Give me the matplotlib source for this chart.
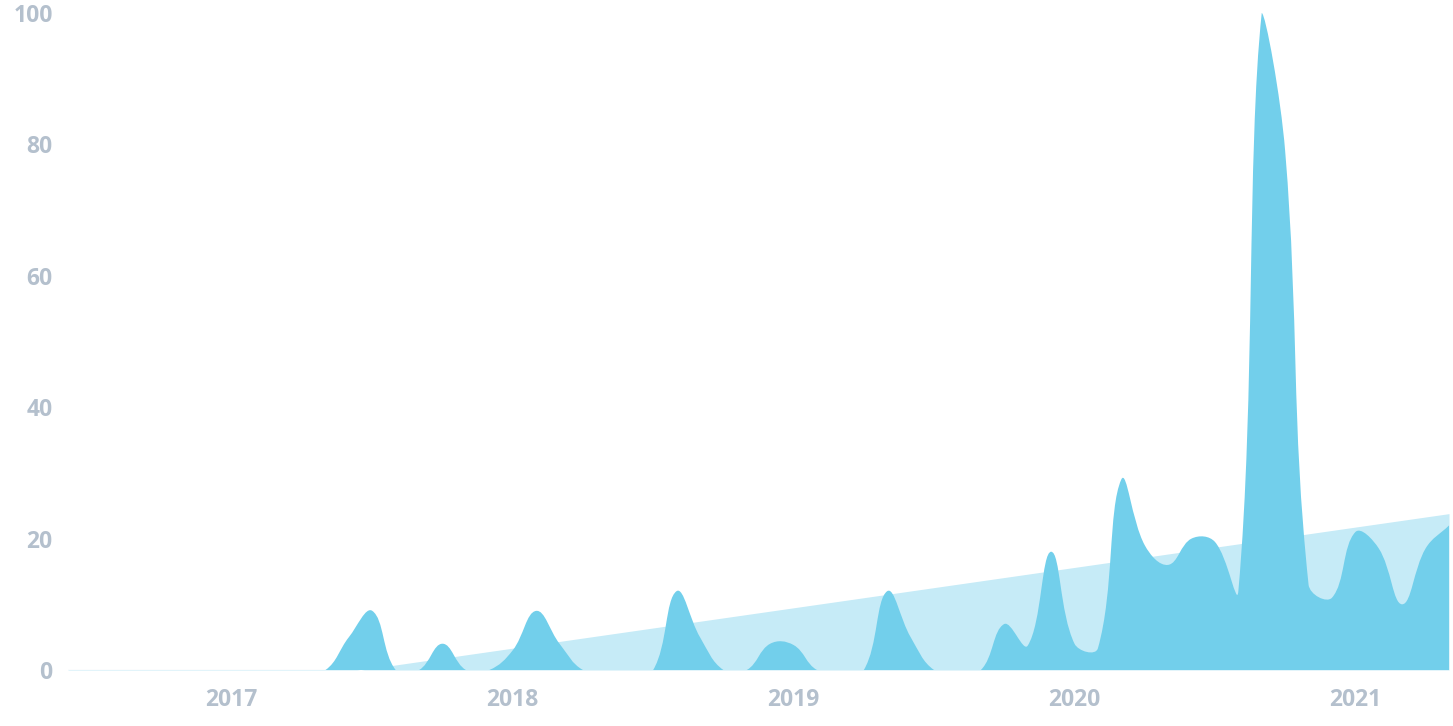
import numpy as np
import pandas as pd
import matplotlib.pyplot as plt
from matplotlib.path import Path
from matplotlib.patches import PathPatch

plt.rcParams['font.family'] = ['Open Sans', 'DejaVu Sans']

# monthly values, Jun 2016 .. May 2021
months = pd.period_range('2016-06', '2021-05', freq='M')
values = [0, 0, 0, 0, 0, 0, 0,
          0, 0, 0, 0, 0, 5, 9, 0, 0, 4, 0, 0,
          3, 9, 4, 0, 0, 0, 0, 12, 5, 0, 0, 4,
          3.8, 0, 0, 0, 12, 5, 0, 0, 0, 7, 3.7, 18,
          4, 3.3, 29, 19, 16, 20, 19.5, 12, 100, 79, 13, 11,
          21, 18.5, 10, 18.5, 22]

# linear trend, value at first and last month
trend_months = [months[0], months[-1]]
trend_values = [-6.4, 23.8]

year_ticks = [2017, 2018, 2019, 2020, 2021]
y_ticks = [0, 20, 40, 60, 80, 100]

main_color = '#72cfeb'
light_color = '#c6ebf7'
label_color = '#b4c0cd'


def month_num(p):
    return (p.year - 2017) * 12 + (p.month - 1)


x = np.array([month_num(p) for p in months], dtype=float)
y = np.array(values, dtype=float)

fig = plt.figure(figsize=(14.53, 7.26), dpi=100)
ax = fig.add_axes([68 / 1453, 56 / 726, 1381 / 1453, 657 / 726])
ax.set_xlim(x[0], x[-1])
ax.set_ylim(0, 100)

# trend area
tx = [month_num(p) for p in trend_months]
ax.fill_between(tx, trend_values, 0, color=light_color, lw=0, zorder=1)

# smooth area, bezier control points like chart.js (tension 0.4, pixel space)
pts = ax.transData.transform(np.column_stack([x, y]))
(x0p, y0p), (x1p, y1p) = ax.transData.transform([(x[0], 0), (x[-1], 100)])
tension = 0.4
n = len(pts)
cp_prev = np.zeros_like(pts)
cp_next = np.zeros_like(pts)
for i in range(n):
    prev = pts[max(i - 1, 0)]
    cur = pts[i]
    nxt = pts[min(i + 1, n - 1)]
    d01 = np.hypot(*(cur - prev))
    d12 = np.hypot(*(nxt - cur))
    tot = d01 + d12
    s01 = d01 / tot if tot > 0 else 0
    s12 = d12 / tot if tot > 0 else 0
    cp_prev[i] = cur - tension * s01 * (nxt - prev)
    cp_next[i] = cur + tension * s12 * (nxt - prev)
for cp in (cp_prev, cp_next):
    cp[:, 0] = np.clip(cp[:, 0], x0p, x1p)
    cp[:, 1] = np.clip(cp[:, 1], y0p, y1p)

inv = ax.transData.inverted()
verts = [pts[0]]
codes = [Path.MOVETO]
for i in range(1, n):
    verts += [cp_next[i - 1], cp_prev[i], pts[i]]
    codes += [Path.CURVE4] * 3
verts = list(inv.transform(np.array(verts)))
verts += [(x[-1], 0), (x[0], 0), (x[0], 0)]
codes += [Path.LINETO, Path.LINETO, Path.CLOSEPOLY]
ax.add_patch(PathPatch(Path(verts, codes), facecolor=main_color, edgecolor='none', zorder=2))

ax.axhline(0, color='#eef2f5', lw=1, zorder=0)

ax.set_yticks(y_ticks)
ax.set_xticks([month_num(pd.Period(f'{yr}-01', freq='M')) for yr in year_ticks])
ax.set_xticklabels([str(yr) for yr in year_ticks])
ax.tick_params(length=0, labelsize=16.5, labelcolor=label_color)
ax.tick_params(axis='y', pad=11)
ax.tick_params(axis='x', pad=13)
for lab in ax.get_xticklabels() + ax.get_yticklabels():
    lab.set_fontweight('bold')
for s in ax.spines.values():
    s.set_visible(False)

fig.savefig('out.png', dpi=100)
